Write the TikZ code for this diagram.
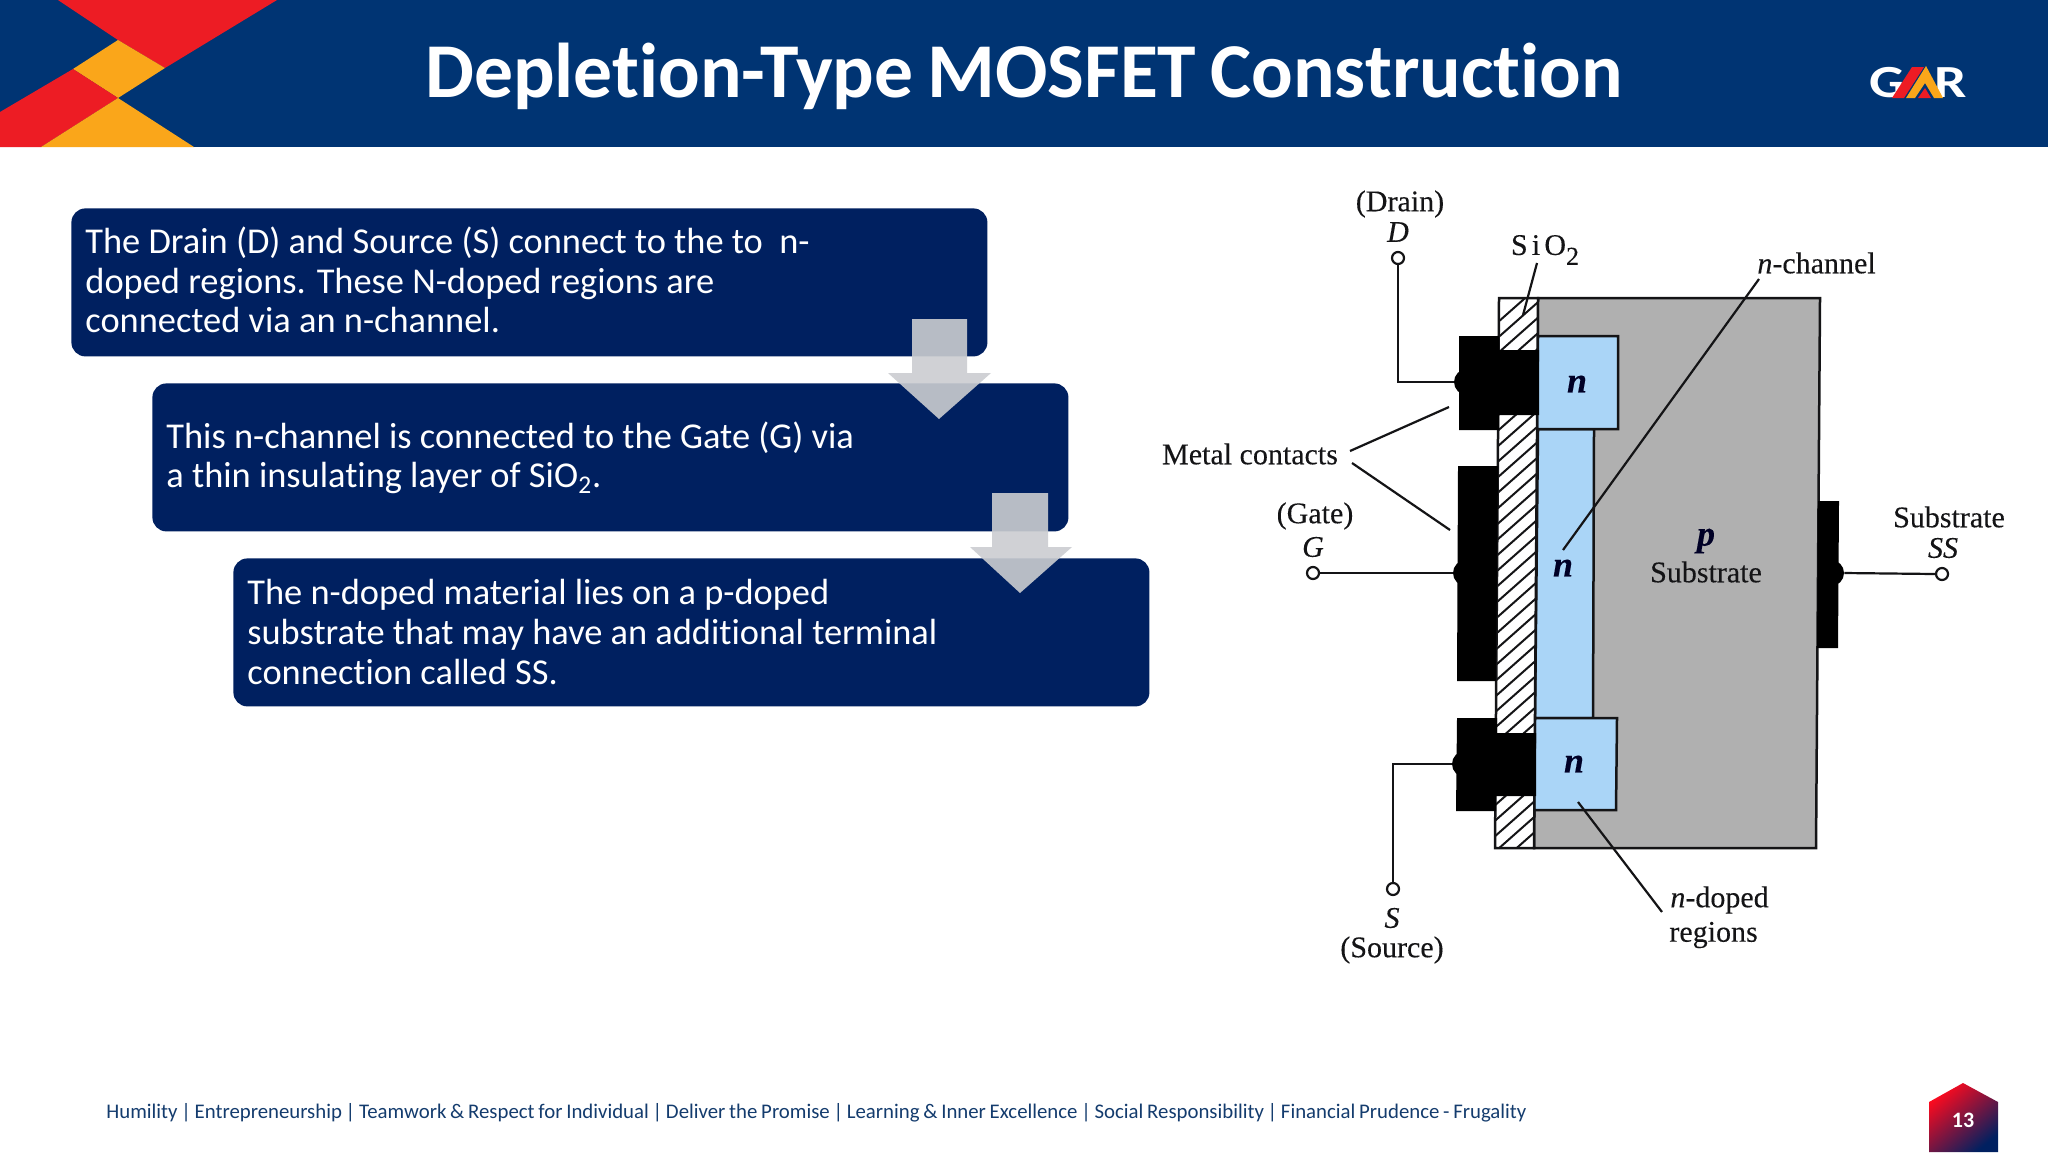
\documentclass[tikz,border=0pt]{standalone}
\usepackage{fontspec}
\setmainfont{Carlito}[Ligatures=NoCommon,WordSpace=0.8]
\newfontfamily\bodyf{Carlito}[Ligatures=NoCommon]
\newfontfamily\ser{Liberation Serif}[FakeBold=0.2]
\newfontfamily\sersp{Liberation Serif}[LetterSpace=14,FakeBold=0.2]
\definecolor{hdr}{RGB}{0,52,115}
\definecolor{boxc}{RGB}{0,32,96}
\definecolor{redc}{RGB}{237,28,36}
\definecolor{orac}{RGB}{250,166,26}
\definecolor{arrc}{RGB}{203,205,209}
\definecolor{subc}{RGB}{176,176,176}
\definecolor{nc}{RGB}{170,213,247}
\definecolor{inkc}{RGB}{20,20,22}
\definecolor{footc}{RGB}{20,60,110}
\definecolor{badgeA}{RGB}{0,32,96}
\definecolor{badgeB}{RGB}{255,10,30}
\tikzset{
  x=0.5pt,y=-0.5pt,
  box/.style={fill=boxc,rounded corners=7pt,inner sep=0pt,minimum width=458pt,minimum height=74pt,anchor=north west},
  boxtext/.style={text=white,align=left,inner sep=0pt,anchor=west,font=\bodyf\fontsize{18.2}{19.8}\selectfont},
  blockarrow/.style={fill=arrc,fill opacity=0.9,draw=none},
  edge/.style={draw=inkc,line width=1.25pt,line join=miter},
  contact/.style={fill=black,draw=none},
  bump/.style={circle,fill=black,minimum size=13pt,inner sep=0pt},
  term/.style={circle,draw=inkc,fill=white,line width=1.1pt,minimum size=6pt,inner sep=0pt},
  wire/.style={draw=inkc,line width=1.1pt},
  leader/.style={draw=inkc,line width=1.1pt},
  lab/.style={font=\ser\fontsize{15}{15}\selectfont,text=inkc,inner sep=0pt},
  labi/.style={font=\ser\itshape\fontsize{15}{15}\selectfont,text=inkc,inner sep=0pt},
  labn/.style={font=\ser\bfseries\itshape\fontsize{18}{18}\selectfont,text=black!85!blue,inner sep=0pt},
}
\begin{document}
\begin{tikzpicture}
\useasboundingbox (0,0) rectangle (2048,1152);
\fill[white] (0,0) rectangle (2048,1152);
% header
\fill[hdr] (0,0) rectangle (2048,147);
\fill[redc] (58,0) -- (277,0) -- (165,68) -- (118,40) -- cycle;
\fill[orac] (118,40) -- (165,68) -- (118,98) -- (73,69) -- cycle;
\fill[redc] (73,69) -- (118,98) -- (41,147) -- (0,147) -- (0,112) -- cycle;
\fill[orac] (118,98) -- (41,147) -- (194,147) -- cycle;
\node[font=\bfseries\fontsize{38.8}{44}\selectfont,text=white,inner sep=0pt] (title) at (1024,76) {Depletion-Type MOSFET Construction};
% logo
\node[font=\bfseries\fontsize{23}{23}\selectfont,text=white,inner sep=0pt] (logoG) at (1887,83) {\scalebox{1.2}[1]{G}};
\node[font=\bfseries\fontsize{23}{23}\selectfont,text=white,inner sep=0pt] (logoR) at (1951,83) {\scalebox{1.25}[1]{R}};
\fill[redc] (1892,98) -- (1912,67) -- (1924,67) -- (1904,98) -- cycle;
\fill[orac] (1906,98) -- (1926,66) -- (1943,98) -- (1934,98) -- (1925,83) -- (1915,98) -- cycle;
\fill[redc] (1918,98) -- (1925,88) -- (1931,98) -- cycle;
% text boxes
\node[box] (b1) at (71,208) {};
\node[box] (b2) at (152,383) {};
\node[box] (b3) at (233,558) {};
\node[boxtext] (t1) at (85,280) {The Drain (D) and Source (S) connect to the to\ \ n-\\doped regions. These N-doped regions are\\connected via an n-channel.};
\node[boxtext] (t2) at (166,458) {This n-channel is connected to the Gate (G) via\\a thin insulating layer of SiO\textsubscript{2}.};
\node[boxtext] (t3) at (247,632) {The n-doped material lies on a p-doped\\substrate that may have an additional terminal\\connection called SS.};
% block arrows
\path[blockarrow] (912,319) -- (967,319) -- (967,373) -- (991,373) -- (939,419) -- (888,373) -- (912,373) -- cycle;
\path[blockarrow] (992,493) -- (1048,493) -- (1048,547) -- (1072,547) -- (1020,593) -- (970,547) -- (992,547) -- cycle;
% device
\path[edge,fill=subc] (1538,298) -- (1820,298) -- (1816,848) -- (1534,848) -- cycle;
\path[edge,fill=nc] (1538,429) -- (1594,429) -- (1593,718) -- (1535,718) -- cycle;
\path[edge,fill=nc] (1538,336) -- (1618,336) -- (1618,429) -- (1537,429) -- cycle;
\path[edge,fill=nc] (1535,718) -- (1617,718) -- (1616,810) -- (1534,810) -- cycle;
\fill[white] (1499,298) -- (1538,298) -- (1534,848) -- (1495,848) -- cycle;
\begin{scope}
\clip (1499,298) -- (1538,298) -- (1534,848) -- (1495,848) -- cycle;
\foreach \k in {338,353.5,...,910} {\draw[inkc,line width=1pt] (1480,\k) -- ++(70,-62);}
\end{scope}
\path[edge] (1499,298) -- (1538,298) -- (1534,848) -- (1495,848) -- cycle;
% contacts
\fill[contact] (1459,336) -- (1499,336) -- (1499,350) -- (1539,350) -- (1539,415) -- (1499,415) -- (1499,430) -- (1459,430) -- cycle;
\fill[contact] (1458,466) -- (1498,466) -- (1496,681) -- (1457,681) -- cycle;
\fill[contact] (1457,718) -- (1497,718) -- (1497,733) -- (1536,733) -- (1536,796) -- (1496,796) -- (1496,811) -- (1456,811) -- cycle;
\fill[contact] (1818,501) -- (1839,501) -- (1838,648) -- (1817,648) -- cycle;
\node[bump] (bD) at (1467,382) {};
\node[bump] (bG) at (1466,573) {};
\node[bump] (bS) at (1465,764) {};
\node[bump] (bSS) at (1831,573) {};
% terminals and wires
\node[term] (tD) at (1398,258) {};
\node[term] (tG) at (1313,573) {};
\node[term] (tS) at (1393,889) {};
\node[term] (tSS) at (1942,574) {};
\draw[wire] (tD.south) |- (bD.west);
\draw[wire] (tG.east) -- (bG.west);
\draw[wire] (tS.north) |- (bS.west);
\draw[wire] (tSS.west) -- (bSS.east);
% labels
\node[lab] (lDrain) at (1400,204) {(Drain)};
\node[labi] (lD) at (1398,232) {D};
\node[lab] (lGate) at (1315,516) {(Gate)};
\node[labi] (lG) at (1313,547) {G};
\node[labi] (lS) at (1392,918) {S};
\node[lab] (lSource) at (1392,950) {(Source)};
\node[lab] (lMetal) at (1250,454) {Metal contacts};
\node[font=\sersp\fontsize{15}{15}\selectfont,text=inkc,inner sep=0pt] (lSiO) at (1545,250) {SiO\raisebox{-5pt}{\fontsize{13}{13}\selectfont 2}};
\node[lab,anchor=west] (lCh) at (1757,263) {\textit{n}-channel};
\node[lab,anchor=west] (lDop) at (1670,900) {\textit{n}-doped};
\node[lab,anchor=west] (lReg) at (1669,935) {regions};
\node[lab] (lSub1) at (1706,572) {Substrate};
\node[lab] (lSub2) at (1949,517) {Substrate};
\node[labi] (lSS) at (1943,548) {SS};
\node[labn] (np) at (1706,541) {p};
\node[labn] (n1) at (1577,384) {n};
\node[labn] (n2) at (1563,568) {n};
\node[labn] (n3) at (1574,764) {n};
% leaders
\coordinate (sioA) at (1537,263); \coordinate (sioB) at (1523,315);
\coordinate (mA) at (1350,451); \coordinate (mB) at (1449,407);
\coordinate (mC) at (1352,463); \coordinate (mD) at (1450,530);
\coordinate (chA) at (1759,279); \coordinate (chB) at (1563,550);
\coordinate (dA) at (1578,802); \coordinate (dB) at (1662,912);
\draw[leader] (sioA) -- (sioB);
\draw[leader] (mA) -- (mB);
\draw[leader] (mC) -- (mD);
\draw[leader] (chA) -- (chB);
\draw[leader] (dA) -- (dB);
% footer
\node[font=\fontsize{10.4}{12}\selectfont,text=footc,anchor=west,inner sep=0pt] (foot) at (106,1113) {Humility | Entrepreneurship | Teamwork \& Respect for Individual | Deliver the Promise | Learning \& Inner Excellence | Social Responsibility | Financial Prudence - Frugality};
% page badge
\shade[shading=axis,top color=badgeB,bottom color=badgeA,shading angle=40] (1963,1083) -- (1998,1102) -- (1998,1152) -- (1929,1152) -- (1929,1102) -- cycle;
\node[font=\bfseries\fontsize{11}{12}\selectfont,text=white,inner sep=0pt] (pg) at (1963,1120) {13};
\end{tikzpicture}
\end{document}
